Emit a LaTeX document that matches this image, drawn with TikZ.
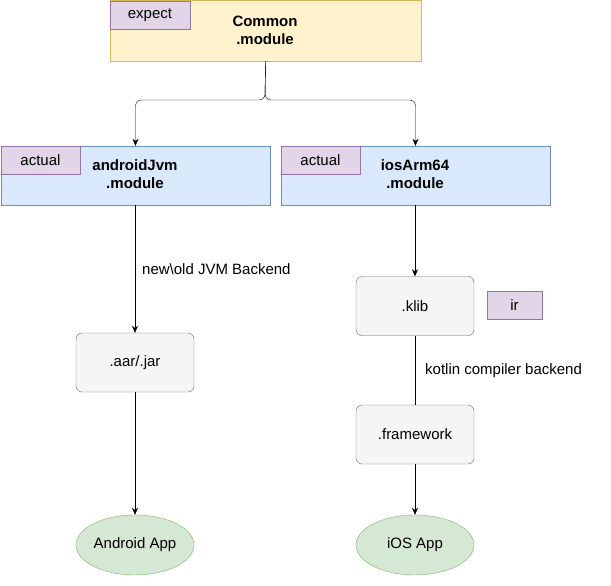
\documentclass[tikz,border=0pt]{standalone}
\usepackage{fontspec}
\setmainfont{Liberation Sans}
\usetikzlibrary{positioning}
\usetikzlibrary{arrows.meta}
\usetikzlibrary{shapes.geometric}
\definecolor{yfill}{HTML}{FFF2CC}\definecolor{ydraw}{HTML}{D6B656}
\definecolor{bfill}{HTML}{DAE8FC}\definecolor{bdraw}{HTML}{6C8EBF}
\definecolor{pfill}{HTML}{E1D5E7}\definecolor{pdraw}{HTML}{9673A6}
\definecolor{gfill}{HTML}{F5F5F5}\definecolor{gdraw}{HTML}{666666}
\definecolor{efill}{HTML}{D5E8D4}\definecolor{edraw}{HTML}{82B366}
\begin{document}
\begin{tikzpicture}[x=1pt, y=-1pt, >={Stealth[length=7pt,width=6pt]},
    every node/.style={font=\fontsize{15}{18}\selectfont, inner sep=0pt},
    module/.style={draw=bdraw, fill=bfill, rectangle, minimum width=269pt, minimum height=59pt},
    common/.style={draw=ydraw, fill=yfill, rectangle, minimum width=311pt, minimum height=61pt},
    tag/.style={draw=pdraw, fill=pfill, rectangle, minimum height=28pt},
    artifact/.style={draw=gdraw, fill=gfill, rounded corners=6pt, minimum width=118pt, minimum height=59pt},
    app/.style={draw=edraw, fill=efill, ellipse, minimum width=118pt, minimum height=60pt},
    lbl/.style={align=center, font=\fontsize{15}{18}\selectfont\bfseries}]

  \useasboundingbox (0,0) rectangle (611,586);

  \node[common] (common) at (265.5,30.5) {};
  \node[tag, minimum width=80pt] (expect) at (150,15) {expect};
  \node[lbl] (commonlbl) at (265,30) {Common\\.module};

  \node[module] (android) at (135.5,175.5) {};
  \node[tag, minimum width=79pt] (actual1) at (40.5,160) {actual};
  \node[lbl] (androidlbl) at (135,174) {androidJvm\\.module};

  \node[module] (ios) at (415.5,175.5) {};
  \node[tag, minimum width=79pt] (actual2) at (320.5,160) {actual};
  \node[lbl] (ioslbl) at (415,174) {iosArm64\\.module};

  \node[artifact] (aar) at (135,362.5) {.aar/.jar};
  \node[app] (androidapp) at (135,545) {Android App};

  \node[artifact] (klib) at (415,306) {.klib};
  \node[tag, minimum width=55pt] (ir) at (514.5,305.5) {ir};
  \node[artifact] (framework) at (415,434.5) {.framework};
  \node[app] (iosapp) at (415,545) {iOS App};

  \coordinate (split) at (265,100);
  \draw[->, rounded corners=6pt] (common.south) -- (split) -| (android.north);
  \draw[->, rounded corners=6pt] (common.south) -- (split) -| (ios.north);
  \draw[->] (android.south -| aar) -- node[right=7pt, pos=0.5] {new\textbackslash old JVM Backend} (aar.north);
  \draw[->] (aar) -- (androidapp);
  \draw[->] (ios.south -| klib) -- (klib.north);
  \draw (klib) -- node[right=10pt] {kotlin compiler backend} (framework);
  \draw[->] (framework) -- (iosapp);
\end{tikzpicture}
\end{document}
